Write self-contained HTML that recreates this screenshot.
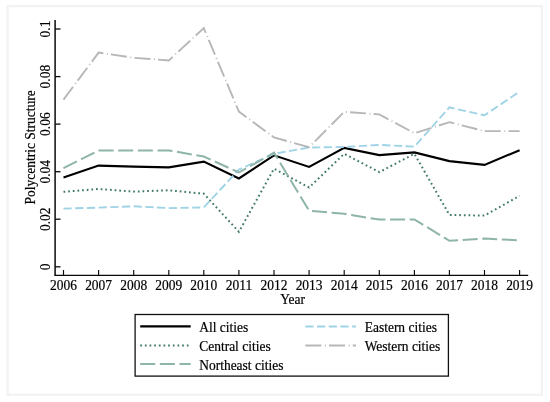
<!DOCTYPE html><html><head><meta charset="utf-8"><title>Polycentric Structure</title>
<style>html,body{margin:0;padding:0;background:#fff}svg{display:block}text{font-family:"Liberation Serif","Times New Roman",serif;fill:#000;stroke:#000;stroke-width:0.2px}</style></head><body>
<svg width="550" height="402" viewBox="0 0 550 402">
<rect width="550" height="402" fill="#fff"/>
<rect x="7.6" y="6.1" width="534.3" height="388.7" fill="none" stroke="#f3f3f3" stroke-width="2.4"/>
<polyline fill="none" stroke="#000" stroke-width="2.1" stroke-linejoin="miter" points="63.5,177.6 98.6,165.6 133.7,166.6 168.8,167.4 203.8,161.6 238.9,178.5 274.0,155.3 309.1,166.9 344.2,147.9 379.3,155.1 414.4,152.4 449.4,161.1 484.5,164.9 519.6,150.2"/>
<polyline fill="none" stroke="#9fd3e6" stroke-width="1.9" stroke-dasharray="8.2 3.5" stroke-linejoin="miter" points="63.5,208.6 98.6,207.6 133.7,206.3 168.8,208.1 203.8,207.4 238.9,169.6 274.0,153.8 309.1,147.5 344.2,147.0 379.3,144.9 414.4,146.7 449.4,107.4 484.5,115.3 519.6,91.6"/>
<polyline fill="none" stroke="#427a69" stroke-width="2" stroke-dasharray="1.75 2.91" stroke-linejoin="miter" points="63.5,191.8 98.6,189.0 133.7,191.6 168.8,190.3 203.8,193.7 238.9,231.8 274.0,168.7 309.1,187.5 344.2,153.8 379.3,172.1 414.4,153.8 449.4,214.9 484.5,215.6 519.6,195.8"/>
<polyline fill="none" stroke="#b7b7b7" stroke-width="1.9" stroke-dasharray="16 3.6 0.9 3.22" stroke-linejoin="miter" points="63.5,99.6 98.6,52.6 133.7,57.8 168.8,60.4 203.8,28.1 238.9,111.6 274.0,137.4 309.1,147.2 344.2,111.8 379.3,114.4 414.4,133.2 449.4,122.2 484.5,131.1 519.6,131.1"/>
<polyline fill="none" stroke="#8fb4aa" stroke-width="2.0" stroke-dasharray="15 4.65" stroke-linejoin="miter" points="63.5,168.2 98.6,150.4 133.7,150.4 168.8,150.4 203.8,156.5 238.9,172.5 274.0,152.7 309.1,210.7 344.2,213.8 379.3,219.6 414.4,219.4 449.4,240.8 484.5,238.5 519.6,240.3"/>
<g stroke="#0a0a0a" stroke-width="1.15" fill="none">
<path d="M55.1 20 V275.4" stroke-width="1.5"/>
<path d="M54.4 275.4 H528.2"/>
<path d="M55.2 266.8 H60.5" stroke-width="1.3"/>
<path d="M55.2 219.2 H60.5" stroke-width="1.3"/>
<path d="M55.2 171.7 H60.5" stroke-width="1.3"/>
<path d="M55.2 124.1 H60.5" stroke-width="1.3"/>
<path d="M55.2 76.6 H60.5" stroke-width="1.3"/>
<path d="M55.2 29.0 H60.5" stroke-width="1.3"/>
<path d="M63.5 275.4 V270"/>
<path d="M98.6 275.4 V270"/>
<path d="M133.7 275.4 V270"/>
<path d="M168.8 275.4 V270"/>
<path d="M203.8 275.4 V270"/>
<path d="M238.9 275.4 V270"/>
<path d="M274.0 275.4 V270"/>
<path d="M309.1 275.4 V270"/>
<path d="M344.2 275.4 V270"/>
<path d="M379.3 275.4 V270"/>
<path d="M414.4 275.4 V270"/>
<path d="M449.4 275.4 V270"/>
<path d="M484.5 275.4 V270"/>
<path d="M519.6 275.4 V270"/>
</g>
<text font-size="14" text-anchor="middle" transform="translate(50.2 266.8) rotate(-90) scale(0.963 1)">0</text>
<text font-size="14" text-anchor="middle" transform="translate(50.2 219.2) rotate(-90) scale(0.963 1)">0.02</text>
<text font-size="14" text-anchor="middle" transform="translate(50.2 171.7) rotate(-90) scale(0.963 1)">0.04</text>
<text font-size="14" text-anchor="middle" transform="translate(50.2 124.1) rotate(-90) scale(0.963 1)">0.06</text>
<text font-size="14" text-anchor="middle" transform="translate(50.2 76.6) rotate(-90) scale(0.963 1)">0.08</text>
<text font-size="14" text-anchor="middle" transform="translate(50.2 29.0) rotate(-90) scale(0.963 1)">0.1</text>
<text font-size="14" text-anchor="middle" transform="translate(63.5 290.2) scale(0.963 1)">2006</text>
<text font-size="14" text-anchor="middle" transform="translate(98.6 290.2) scale(0.963 1)">2007</text>
<text font-size="14" text-anchor="middle" transform="translate(133.7 290.2) scale(0.963 1)">2008</text>
<text font-size="14" text-anchor="middle" transform="translate(168.8 290.2) scale(0.963 1)">2009</text>
<text font-size="14" text-anchor="middle" transform="translate(203.8 290.2) scale(0.963 1)">2010</text>
<text font-size="14" text-anchor="middle" transform="translate(238.9 290.2) scale(0.963 1)">2011</text>
<text font-size="14" text-anchor="middle" transform="translate(274.0 290.2) scale(0.963 1)">2012</text>
<text font-size="14" text-anchor="middle" transform="translate(309.1 290.2) scale(0.963 1)">2013</text>
<text font-size="14" text-anchor="middle" transform="translate(344.2 290.2) scale(0.963 1)">2014</text>
<text font-size="14" text-anchor="middle" transform="translate(379.3 290.2) scale(0.963 1)">2015</text>
<text font-size="14" text-anchor="middle" transform="translate(414.4 290.2) scale(0.963 1)">2016</text>
<text font-size="14" text-anchor="middle" transform="translate(449.4 290.2) scale(0.963 1)">2017</text>
<text font-size="14" text-anchor="middle" transform="translate(484.5 290.2) scale(0.963 1)">2018</text>
<text font-size="14" text-anchor="middle" transform="translate(519.6 290.2) scale(0.963 1)">2019</text>
<text font-size="14" text-anchor="middle" transform="translate(35.0 147.4) rotate(-90) scale(0.963 1)">Polycentric Structure</text>
<text font-size="14" text-anchor="middle" transform="translate(292.6 303.8) scale(0.963 1)">Year</text>
<rect x="135.1" y="314.5" width="313.3" height="61.6" fill="#fff" stroke="#111" stroke-width="1.3"/>
<path fill="none" stroke="#000" stroke-width="2.1" d="M140.2 326.4 H190.7"/>
<text font-size="14" transform="translate(199.2 332.1) scale(0.963 1)">All cities</text>
<path fill="none" stroke="#427a69" stroke-width="2" stroke-dasharray="1.75 2.91" d="M140.2 345.6 H190.7"/>
<text font-size="14" transform="translate(199.2 351.3) scale(0.963 1)">Central cities</text>
<path fill="none" stroke="#8fb4aa" stroke-width="2.0" stroke-dasharray="15 4.65" d="M140.2 364.1 H190.7"/>
<text font-size="14" transform="translate(199.2 369.8) scale(0.963 1)">Northeast cities</text>
<path fill="none" stroke="#9fd3e6" stroke-width="1.9" stroke-dasharray="8.2 3.5" d="M305.3 326.5 H356"/>
<text font-size="14" transform="translate(364.7 332.2) scale(0.963 1)">Eastern cities</text>
<path fill="none" stroke="#b7b7b7" stroke-width="1.9" stroke-dasharray="16 3.6 0.9 3.22" d="M305.3 345.5 H356"/>
<text font-size="14" transform="translate(364.7 351.2) scale(0.963 1)">Western cities</text>
</svg></body></html>
